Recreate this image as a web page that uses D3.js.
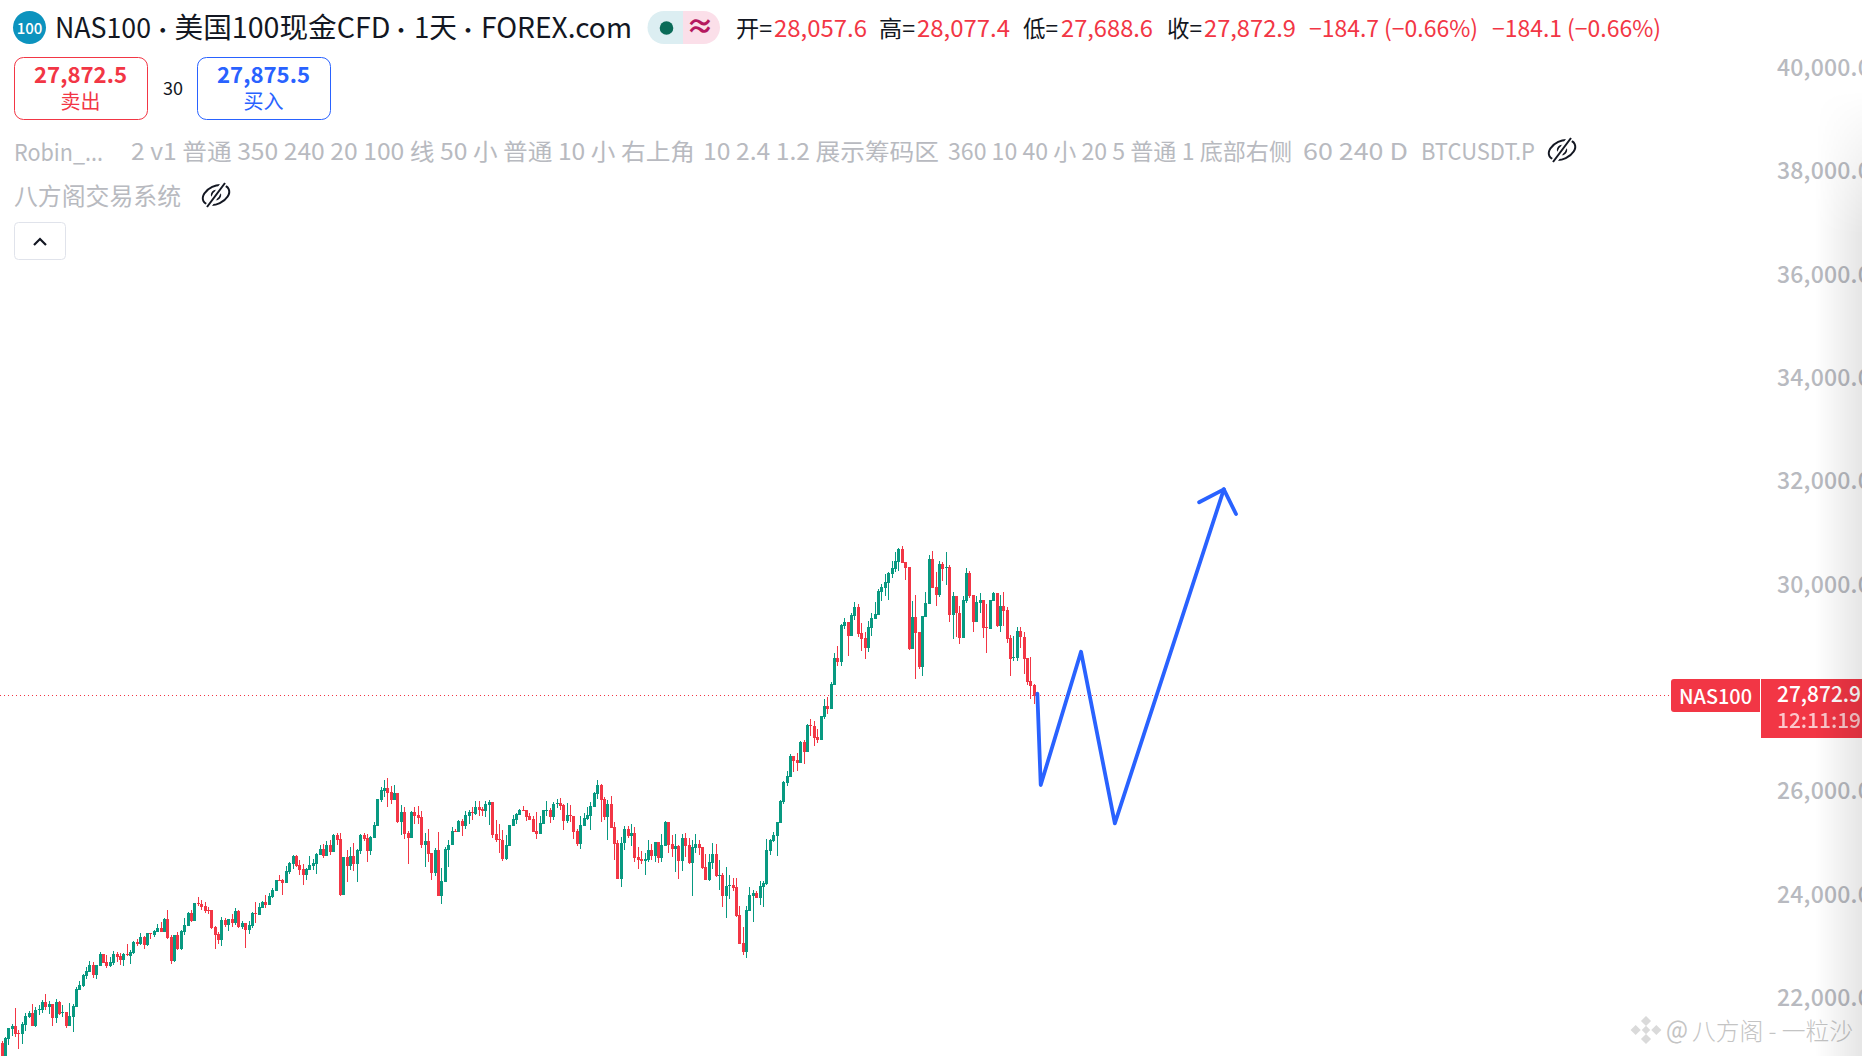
<!DOCTYPE html>
<html><head><meta charset="utf-8">
<script src="https://cdn.jsdelivr.net/npm/d3@7/dist/d3.min.js"></script>
<style>html,body{margin:0;padding:0;background:#fff;overflow:hidden}svg{display:block}</style>
</head><body><svg id="c" width="1862" height="1056"></svg>
<script>
// Candle values, one entry per daily bar, ten bars per row.
const bodyTops=[21103,21200,21394,21439,21439,21303,21478,21632,21697,21690,
21748,21768,21903,21903,21865,21865,21903,21903,21710,21710,
21632,21832,22155,22232,22426,22503,22620,22620,22613,22832,
22832,22678,22678,22832,22832,22794,22832,22832,22871,23065,
23065,23161,23161,23239,23239,23278,23336,23336,23510,23510,
23161,23200,23200,23278,23394,23626,23626,23820,23820,23800,
23761,23684,23684,23355,23220,23490,23490,23510,23510,23665,
23665,23432,23432,23394,23626,23626,23742,23839,23839,23955,
24071,24265,24265,24265,24439,24594,24736,24736,24555,24478,
24478,24555,24594,24768,24865,24865,24942,24942,25136,25136,
25058,24710,24710,24729,24729,24845,25135,25135,25077,25097,
25329,25832,26006,26045,26045,25968,25948,25948,25580,25580,
25174,25580,25580,25522,25484,25019,25019,24787,24845,24845,
24245,24864,24942,25213,25213,25406,25406,25522,25580,25580,
25677,25677,25639,25735,25774,25774,25155,25058,25039,24942,
25329,25445,25542,25619,25619,25619,25503,25445,25213,25368,
25619,25619,25619,25735,25755,25755,25716,25522,25522,25503,
25213,25329,25464,25522,25697,25948,26103,26103,25832,25735,
25735,25290,24980,24980,25251,25251,25174,25174,24709,24671,
24671,24845,24845,25000,25000,24942,25387,25387,24961,24922,
24922,25077,25077,24942,24903,24961,24961,24903,24516,24613,
24767,24767,24361,24361,24148,24168,24168,24129,23587,23045,
23684,23974,24013,24013,24148,24206,24845,25038,25135,25387,
25793,26161,26277,26664,26664,26587,26935,26935,27265,27265,
27245,27032,27439,27632,27632,28058,28561,28561,29200,29258,
29258,29394,29549,29549,29045,28949,29161,29336,29413,29858,
29936,30032,30207,30303,30439,30671,30671,30420,30323,29355,
29355,29065,29374,29626,30478,30478,29936,30381,30381,30323,
30323,29761,29761,29432,29684,30207,30207,29781,29645,29684,
29684,29161,29684,29820,29820,29568,29568,29490,28949,28581,
29084,29084,28968,28561,28116,28039];
const bodyBottoms=[20800,20700,21187,21381,21290,21284,21284,21458,21613,21445,
21439,21748,21748,21807,21807,21600,21600,21671,21697,21439,
21439,21613,21807,22135,22213,22406,22484,22426,22426,22600,
22658,22600,22600,22658,22774,22716,22716,22813,22794,22852,
23026,23026,23007,23007,23220,23200,23258,23258,23258,23142,
22697,22697,22929,22929,23258,23374,23471,23471,23800,23742,
23665,23665,23336,23200,23103,23103,23394,23394,23432,23432,
23355,23355,23297,23297,23374,23607,23587,23723,23781,23781,
23936,24052,24245,24207,24207,24420,24574,24536,24458,24362,
24362,24458,24536,24574,24749,24729,24729,24807,24807,25039,
23974,23974,24536,24535,24574,24574,24826,25058,24826,24826,
25077,25310,25813,25987,25948,25813,25813,25387,25387,25155,
25077,25077,25503,25464,24942,24942,24767,24400,24400,23955,
23955,24226,24845,24942,25193,25193,25310,25310,25503,25561,
25542,25619,25600,25600,25716,25135,25039,25039,24671,24671,
24922,25310,25426,25522,25600,25484,25426,25193,25155,25155,
25348,25600,25484,25484,25735,25697,25406,25406,25503,25193,
24961,24961,25310,25445,25503,25677,25929,25813,25484,25484,
25271,24961,24284,24284,24980,25116,25116,24690,24651,24632,
24632,24651,24729,24729,24690,24690,24922,24942,24864,24864,
24632,24632,24922,24593,24593,24884,24884,24497,24264,24264,
24593,24342,24342,23955,23955,24148,24109,23567,23025,22871,
22871,23664,23954,23916,23916,24129,24187,24825,25019,25116,
25367,25774,26142,26258,26567,26529,26529,26742,26742,27245,
27013,26974,26974,27419,27574,27574,28039,28484,28484,29181,
28987,28987,29374,29026,28929,28755,28755,29142,29316,29394,
29839,29916,30013,30187,30284,30420,30400,30303,28736,28736,
29045,28387,28387,29355,29607,29916,29781,29781,30284,30303,
29394,29394,29432,28949,28949,29665,29761,29258,29258,29626,
29142,29142,29123,29665,29181,29181,29471,28929,28542,28561,
28561,28968,28542,28097,28019,27826];
const highs=[21148,21220,21400,21478,21787,21361,21516,21697,21729,21865,
21813,21845,21942,22058,21923,21865,21961,21923,21845,21710,
21884,21858,22194,22310,22445,22581,22697,22677,22613,22871,
22832,22813,22768,22890,22871,22852,22852,23026,22910,23084,
23123,23239,23181,23239,23239,23297,23413,23452,23529,23684,
23200,23200,23258,23297,23529,23645,23684,23820,23936,23878,
23839,23742,23684,23374,23258,23549,23529,23510,23607,23723,
23684,23471,23432,23471,23645,23839,23820,23858,23974,24013,
24110,24265,24362,24284,24536,24613,24749,24749,24652,24574,
24497,24729,24671,24787,24942,24962,25020,25039,25155,25174,
25174,24710,24845,24903,24980,24864,25155,25174,25155,25116,
25387,25832,26064,26200,26239,26084,26103,25948,25716,25677,
25213,25600,25677,25697,25600,25174,25252,24787,24884,25193,
24497,24903,25039,25290,25251,25426,25445,25600,25619,25677,
25793,25793,25677,25793,25813,25774,25426,25348,25232,25135,
25329,25522,25561,25639,25697,25619,25561,25503,25580,25503,
25619,25793,25658,25774,25832,25851,25735,25755,25716,25503,
25251,25503,25561,25677,25774,25968,26200,26122,25871,25813,
25890,25387,25039,25097,25310,25310,25348,25290,24903,24826,
24787,25039,24961,25000,25000,25155,25406,25387,25135,25155,
24942,25155,25174,25077,25039,25155,25039,24903,24767,24767,
24980,24961,24651,24400,24516,24361,24303,24303,23761,23355,
23761,24129,24071,24051,24245,24245,25058,25058,25193,25387,
25813,26180,26374,26703,26664,26722,26955,26974,27284,27381,
27342,27187,27439,27768,27807,28097,28658,28794,29220,29336,
29258,29432,29645,29607,29239,29065,29278,29432,29645,29897,
29994,30187,30226,30439,30613,30691,30729,30420,30323,29665,
29781,29065,29374,29839,30555,30632,30226,30439,30420,30613,
30361,29839,29761,29568,29761,30303,30245,29781,29761,29820,
29684,29607,29684,29839,29820,29781,29839,29549,29007,28987,
29161,29161,29065,28561,28581,28058];
const lows=[20700,20650,21078,21252,21232,20994,21090,21342,21587,21445,
21426,21652,21690,21748,21671,21439,21497,21652,21613,21400,
21439,21323,21807,22135,22194,22348,22484,22368,22348,22600,
22658,22561,22581,22620,22678,22620,22600,22794,22639,22832,
22987,23007,22929,22987,23123,23161,23258,23258,23258,23123,
22639,22677,22910,22910,23200,23374,23452,23471,23761,23684,
23626,23607,23316,22929,23026,22987,23355,23278,23355,23394,
23336,23316,22949,23220,23336,23432,23587,23723,23723,23781,
23916,24052,24245,23974,24207,24381,24478,24516,24362,24168,
24265,24458,24458,24381,24749,24691,24729,24749,24807,24942,
23955,23974,24226,24458,24438,24226,24767,25019,24613,24748,
25077,25310,25774,25871,25677,25735,25813,25368,25135,25058,
24574,25077,25348,25348,24884,24516,24613,24264,24342,23955,
23800,24226,24516,24942,25193,25193,25116,25251,25348,25426,
25522,25503,25503,25484,25329,25077,25000,24787,24632,24651,
24922,25310,25348,25522,25600,25406,25426,25193,25058,25155,
25348,25503,25368,25426,25658,25619,25232,25368,25387,25058,
24922,24864,25310,25426,25232,25677,25832,25387,25426,25039,
25271,24651,24284,24129,24845,25077,24922,24613,24477,24574,
24361,24613,24651,24613,24593,24613,24922,24787,24709,24419,
24284,24438,24709,24574,23955,24787,24748,24477,24264,24245,
24477,24322,24071,23742,23529,23897,24051,23548,23025,22813,
22755,23664,23451,23916,23780,23742,24167,24748,25000,24729,
25367,25735,26084,26258,26355,26374,26529,26509,26742,27052,
26858,26916,26974,27381,27477,27574,28039,28407,28407,29123,
28600,28987,29297,28968,28697,28542,28678,28987,29316,29394,
29665,29761,29684,30110,30226,30245,30400,30071,28716,28736,
28155,28348,28213,29355,29607,29916,29568,29742,30052,29974,
29258,28929,28968,28832,28949,29626,29723,29065,29258,29432,
28949,28658,29123,29665,29161,29065,29181,28852,28213,28503,
28503,28755,28252,28039,27768,27671];
// u = close above open, d = close below open, in the same bar order
const barSides=("duuudduuud"+"uuudududud"+"uuuuuuuduu"+"dduudduduu"+"dududuudud"+"duduuududd"+"dddddududu"+"duduuduudu"+"uudduuuddd"+"uuuuududud"
 +"dududuuddu"+"uuuuddudud"+"duddduddud"+"uuuududuud"+"udduuddddu"+"uuuudddddu"+"uuduuddudd"+"duuuuuuddu"+"ddduududdd"+"uududuuddu"
 +"dudduudddu"+"ududuudddd"+"uuuduuuuuu"+"uuuuddudud"+"dduuduuduu"+"duuddduuuu"+"uuuuuudddu"+"dduuuddudu"+"dudduudduu"+"dduududddu"+"uddddd").split("");
const opens=bodyTops.map((t,i)=>barSides[i]==="u"?bodyBottoms[i]:t);
const closes=bodyTops.map((t,i)=>barSides[i]==="u"?t:bodyBottoms[i]);
// Hand-drawn projection: bars after the last candle, price
const arrowBars=[0.9,1.9,13.8,23.8,56];
const arrowPrices=[27873,26103,28683,25362,31826];
const headBars=[48.7,56,59.6];
const headPrices=[31575,31826,31348];
const priceTicks=[22000,24000,26000,30000,32000,34000,36000,38000,40000];
const lastLevel=27845;
const ohlcLabels=[["开=","28,057.6"],["高=","28,077.4"],["低=","27,688.6"],["收=","27,872.9"]];

const RED="#F23645",GREEN="#089981",BLUE="#2962FF",GREY="#B8BAC0";
const FONT='"Noto Sans CJK SC","Noto Sans",sans-serif';
const svg=d3.select("#c");
const n=highs.length;
const x=d3.scaleLinear().domain([0,n-1]).range([2,1034.3]);
const y=d3.scaleLinear().domain([22000,40000]).range([997,67]);
const snap=v=>Math.round(v-0.5);

function txt(px,py,s,o={}){const t=svg.append("text").attr("x",px).attr("y",py).text(s)
 .attr("font-family",o.family||FONT).attr("font-size",o.size||23).attr("fill",o.fill||"#131722")
 .attr("font-weight",o.weight||400).attr("text-anchor",o.anchor||"start");
 if(o.len)t.attr("textLength",o.len).attr("lengthAdjust","spacingAndGlyphs");
 if(o.opacity)t.attr("opacity",o.opacity);return t;}

// price line
svg.append("line").attr("x1",0).attr("x2",1671).attr("y1",y(lastLevel)+.5).attr("y2",y(lastLevel)+.5)
 .attr("stroke",RED).attr("stroke-width",1).attr("stroke-dasharray","1 3");

// candles
const idx=d3.range(n);
const col=i=>closes[i]>opens[i]?GREEN:RED;
svg.append("g").attr("shape-rendering","crispEdges").selectAll("rect.w").data(idx).join("rect").attr("class","w")
 .attr("x",i=>snap(x(i))).attr("width",1).attr("y",i=>y(highs[i])).attr("height",i=>Math.max(1,y(lows[i])-y(highs[i]))).attr("fill",col);
svg.append("g").attr("shape-rendering","crispEdges").selectAll("rect.b").data(idx).join("rect").attr("class","b")
 .attr("x",i=>snap(x(i))-1).attr("width",3).attr("y",i=>y(Math.max(opens[i],closes[i]))).attr("height",i=>Math.max(1,Math.abs(y(opens[i])-y(closes[i])))).attr("fill",col);

// projection arrow
const line=d3.line().x(d=>x(n-1+d[0])).y(d=>y(d[1]));
const lineStyle=s=>s.attr("fill","none").attr("stroke",BLUE).attr("stroke-width",3.8).attr("stroke-linejoin","round").attr("stroke-linecap","round");
svg.append("path").attr("d",line(arrowBars.map((b,i)=>[b,arrowPrices[i]]))).call(lineStyle);
svg.append("path").attr("d",line(headBars.map((b,i)=>[b,headPrices[i]]))).call(lineStyle);

// price axis
const ax=svg.append("g").attr("transform","translate(1777,1)").call(d3.axisRight(y).tickValues(priceTicks).tickFormat(d3.format(",.1f")).tickSize(0).tickPadding(0));
ax.select(".domain").remove();
ax.selectAll("text").attr("font-family",FONT).attr("font-size",23).attr("font-weight",500).attr("fill",GREY).attr("letter-spacing",0.2);

// last price tags
svg.append("path").attr("d","M1674,679H1760V712H1674Q1671,712 1671,709V682Q1671,679 1674,679Z").attr("fill",RED);
svg.append("rect").attr("x",1761).attr("y",679).attr("width",101).attr("height",59).attr("fill",RED);
txt(1715.5,704,"NAS100",{size:20,fill:"#fff",weight:500,anchor:"middle",len:73});
txt(1777,702,"27,872.9",{size:22,fill:"#fff",weight:500,len:84});
txt(1777,728,"12:11:19",{size:21,fill:"#fff",opacity:.72,weight:500,len:84});

// header
svg.append("circle").attr("cx",29.5).attr("cy",27.5).attr("r",16.5).attr("fill","#0C93BE");
txt(29.5,33.5,"100",{size:15,fill:"#fff",weight:500,anchor:"middle"});
[["NAS100",55,96],["美国100现金CFD",174.5,216],["1天",414,43],["FOREX.com",481,151]].forEach(p=>txt(p[1],38,p[0],{size:28,len:p[2]}));
[162.7,401,468].forEach(cx=>txt(cx,38,"·",{size:22,anchor:"middle"}));
svg.append("path").attr("d","M683,11H664A16.5,16.5 0 0 0 664,44H683Z").attr("fill","#DCEEF2");
svg.append("path").attr("d","M683,11H703.5A16.5,16.5 0 0 1 703.5,44H683Z").attr("fill","#FBDFE9");
svg.append("circle").attr("cx",666.5).attr("cy",28).attr("r",6.8).attr("fill","#0A6B58");
txt(700,37,"≈",{size:28,fill:"#B5185F",weight:700,anchor:"middle"});
const ohlcX=[[736,772,774,867],[879,915,917,1010],[1023,1058,1061,1153],[1167,1202,1204,1296]];
ohlcLabels.forEach((p,i)=>{const q=ohlcX[i];
 txt(q[0],37,p[0],{size:23,len:q[1]-q[0]});
 txt(q[2],37,p[1],{size:23,fill:RED,len:q[3]-q[2]});});
txt(1309,37,"−184.7 (−0.66%)",{size:23,fill:RED,len:169});
txt(1492,37,"−184.1 (−0.66%)",{size:23,fill:RED,len:169});

// buy / sell
svg.append("rect").attr("x",14.5).attr("y",57.5).attr("width",133).attr("height",62).attr("rx",9).attr("fill","#fff").attr("stroke",RED);
svg.append("rect").attr("x",197.5).attr("y",57.5).attr("width",133).attr("height",62).attr("rx",9).attr("fill","#fff").attr("stroke",BLUE);
txt(80.5,83,"27,872.5",{size:22,fill:RED,weight:700,anchor:"middle",len:93});
txt(80.5,109,"卖出",{size:20,fill:RED,anchor:"middle"});
txt(173,95,"30",{size:18,anchor:"middle"});
txt(263.5,83,"27,875.5",{size:22,fill:BLUE,weight:700,anchor:"middle",len:93});
txt(263.5,109,"买入",{size:20,fill:BLUE,anchor:"middle"});

// indicator legends
txt(14,161,"Robin_...",{size:23,fill:GREY,len:89});
[["2 v1 普通 350 240 20 100 线 50 小 普通 10 小 右上角",131,564],["10 2.4 1.2 展示筹码区",703,236],["360 10 40 小 20 5 普通 1 底部右侧",948,344],["60 240 D",1303,105],["BTCUSDT.P",1421,114]]
 .forEach(p=>txt(p[1],160,p[0],{size:23,fill:GREY,len:p[2]}));
txt(14,205,"八方阁交易系统",{size:24,fill:GREY,len:167});
function eye(cx,cy){const g=svg.append("g").attr("transform",`translate(${cx},${cy}) rotate(-25)`).attr("fill","none").attr("stroke","#131722").attr("stroke-width",2);
 g.append("ellipse").attr("rx",14).attr("ry",9);g.append("circle").attr("r",4.2);
 svg.append("line").attr("x1",cx-9).attr("y1",cy+13).attr("x2",cx+9).attr("y2",cy-13).attr("stroke","#fff").attr("stroke-width",6);
 svg.append("line").attr("x1",cx-9).attr("y1",cy+12).attr("x2",cx+9).attr("y2",cy-12).attr("stroke","#131722").attr("stroke-width",2);}
eye(1562,150);eye(216,195);
svg.append("rect").attr("x",14.5).attr("y",222.5).attr("width",51).attr("height",37).attr("rx",4).attr("fill","#fff").attr("stroke","#E0E3EB");
svg.append("path").attr("d","M34,245L40,239L46,245").attr("fill","none").attr("stroke","#131722").attr("stroke-width",2.2);

// watermark
const wm=svg.append("g").attr("fill","#DADADA");
[[0,-9],[-9,0],[9,0],[0,9]].forEach(p=>wm.append("rect").attr("x",-3.6).attr("y",-3.6).attr("width",7.2).attr("height",7.2)
 .attr("transform",`translate(${1646+p[0]*1.15},${1030+p[1]}) rotate(45)`));
wm.append("rect").attr("x",-3).attr("y",-3).attr("width",6).attr("height",6).attr("transform","translate(1646,1030) rotate(45)");
txt(1666,1039,"@",{size:26,fill:"#C4C4C4",len:22});
txt(1692,1040,"八方阁 - 一粒沙",{size:24,fill:"#C4C4C4",weight:300,len:161});

// soft shade on the right edge of the screenshot
const defs=svg.append("defs");
const gr=defs.append("linearGradient").attr("id","sh").attr("x1",0).attr("x2",1).attr("y1",0).attr("y2",0);
gr.append("stop").attr("offset",0).attr("stop-color","#000").attr("stop-opacity",0);
gr.append("stop").attr("offset",1).attr("stop-color","#000").attr("stop-opacity",.1);
const fade=defs.append("linearGradient").attr("id","fd").attr("x1",0).attr("x2",0).attr("y1",0).attr("y2",1);
fade.append("stop").attr("offset",0).attr("stop-color","#000");
fade.append("stop").attr("offset",.15).attr("stop-color","#fff");
fade.append("stop").attr("offset",1).attr("stop-color","#fff");
defs.append("mask").attr("id","mk").attr("maskUnits","userSpaceOnUse").attr("x",1815).attr("y",90).attr("width",47).attr("height",966)
 .append("rect").attr("x",1815).attr("y",90).attr("width",47).attr("height",966).attr("fill","url(#fd)");
svg.append("rect").attr("x",1815).attr("y",90).attr("width",47).attr("height",966).attr("fill","url(#sh)").attr("mask","url(#mk)");
</script></body></html>
